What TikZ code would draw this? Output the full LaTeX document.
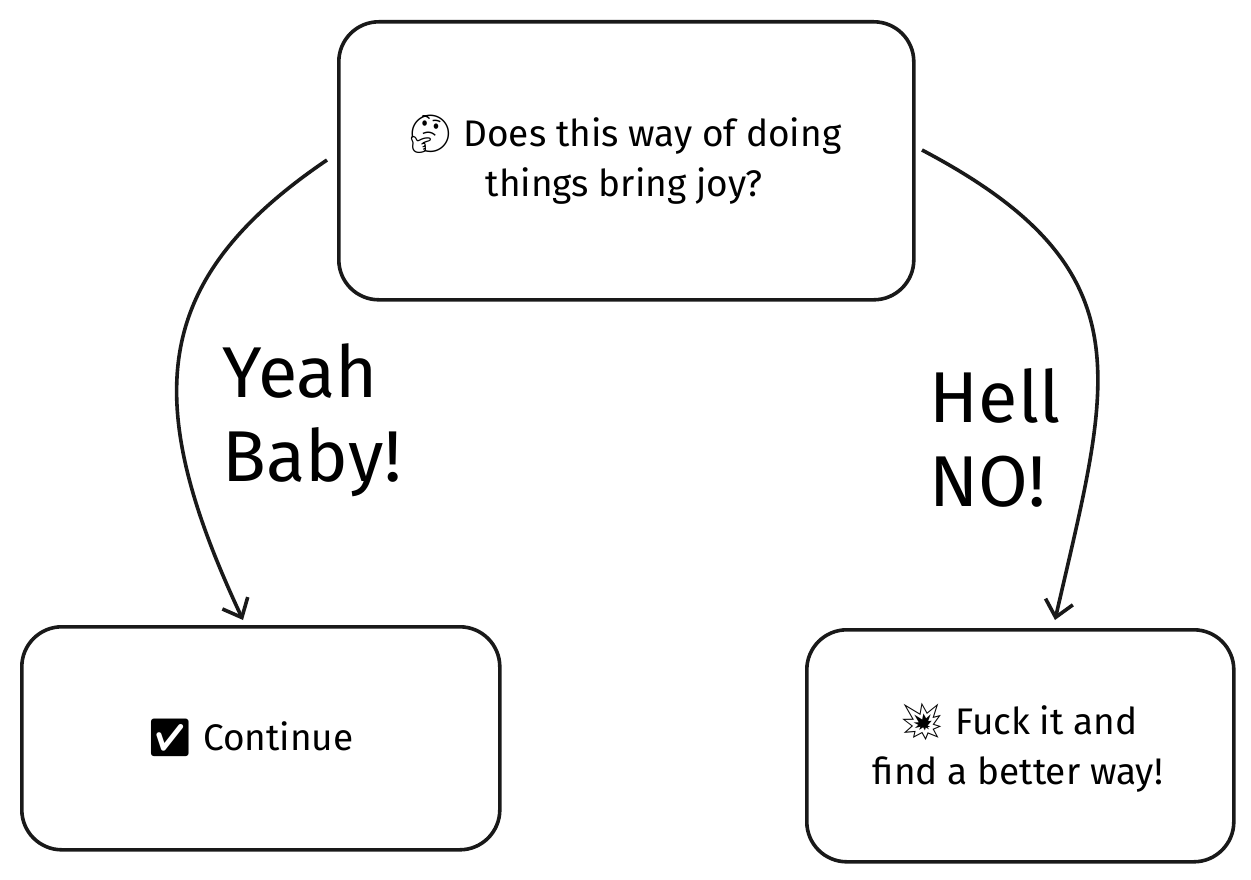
\documentclass[tikz,border=0pt]{standalone}
\usepackage{fontspec}
\setmainfont{Fira Sans}
\newfontfamily\emo{Noto Emoji}
\usetikzlibrary{arrows.meta}
\begin{document}
\begin{tikzpicture}[x=1pt,y=-1pt,
  box/.style={draw=black!90,line width=3.6pt,rounded corners=40pt,align=center,anchor=north west,inner sep=0pt},
  txt/.style={font=\fontsize{37}{50}\selectfont,align=center},
  big/.style={font=\fontsize{72}{84}\selectfont,align=left},
  conn/.style={line width=3.6pt,draw=black!90,-{Straight Barb[length=16pt,width=28pt,line width=3.6pt]}}]
\useasboundingbox[fill=white] (0,0) rectangle (1251,880);
\node[box,minimum width=575pt,minimum height=278pt] (top) at (337,20) {};
\node[box,minimum width=478pt,minimum height=223pt] (left) at (20,625) {};
\node[box,minimum width=427pt,minimum height=232pt] (right) at (805,628) {};
\node[txt] (q) at (624,160) {{\emo 🤔} Does this way of doing\\things bring joy?};
\node[txt] (c) at (250,738) {{\emo ✅} Continue};
\node[txt] (f) at (1018,748) {{\emo 💥} Fuck it and\\find a better way!};
\node[big] (y) at (312,420) {Yeah\\Baby!};
\node[big] (h) at (995,438) {Hell\\NO!};
\coordinate (ls) at (327,160);
\coordinate (rs) at (922,150);
\draw[conn] (ls) .. controls (150,280) and (140,400) .. (243,620);
\draw[conn] (rs) .. controls (1150,270) and (1110,380) .. (1055,620);
\end{tikzpicture}
\end{document}
